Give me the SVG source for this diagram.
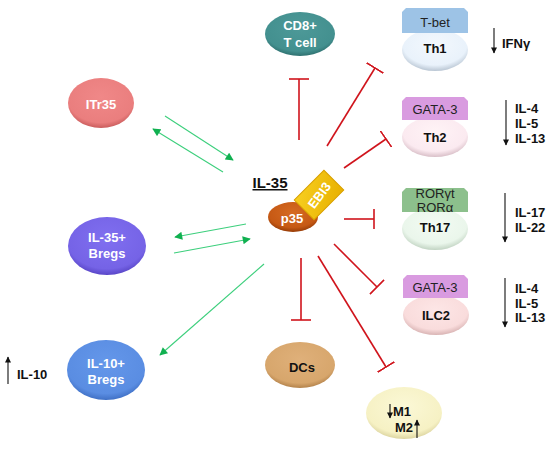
<svg xmlns="http://www.w3.org/2000/svg" width="550" height="453" viewBox="0 0 550 453">
<defs>
<style>
.lbl{font-family:"Liberation Sans",Arial,sans-serif;font-weight:bold;font-size:13px;text-anchor:middle}
.w{fill:#ffffff}
.k{fill:#111111}
.reg{font-family:"Liberation Sans",Arial,sans-serif;font-size:13px;text-anchor:middle;fill:#222222}
.cyt{font-family:"Liberation Sans",Arial,sans-serif;font-weight:bold;font-size:13px;fill:#111111}
.inh{stroke:#d0141c;stroke-width:1.6;fill:none;marker-end:url(#tbar)}
.act{stroke:#3ccf7c;stroke-width:1.1;fill:none;marker-end:url(#garrow)}
.blk{stroke:#111111;stroke-width:1.1;fill:none;marker-end:url(#barrow)}
</style>
<marker id="tbar" viewBox="-1 -10 2 20" markerUnits="userSpaceOnUse" markerWidth="2" markerHeight="20" refX="0" refY="0" orient="auto">
<path d="M0,-10 V10" stroke="#d0141c" stroke-width="1.6"/>
</marker>
<marker id="garrow" viewBox="0 0 10 10" markerUnits="userSpaceOnUse" markerWidth="9" markerHeight="8" refX="9" refY="5" orient="auto">
<path d="M0,0 L10,5 L0,10 Z" fill="#10b050"/>
</marker>
<marker id="barrow" viewBox="0 0 10 10" markerUnits="userSpaceOnUse" markerWidth="7" markerHeight="6" refX="9" refY="5" orient="auto">
<path d="M0,0 L10,5 L0,10 Z" fill="#111111"/>
</marker>
<radialGradient id="gCD8" cx="50%" cy="38%" r="64%"><stop offset="0" stop-color="#4d9998"/><stop offset="0.8" stop-color="#43908f"/><stop offset="1" stop-color="#2b6b6a"/></radialGradient>
<radialGradient id="gITr" cx="50%" cy="38%" r="64%"><stop offset="0" stop-color="#f08888"/><stop offset="0.8" stop-color="#ea7e7e"/><stop offset="1" stop-color="#c45656"/></radialGradient>
<radialGradient id="gB35" cx="50%" cy="38%" r="64%"><stop offset="0" stop-color="#806ff0"/><stop offset="0.8" stop-color="#7563e6"/><stop offset="1" stop-color="#5441c2"/></radialGradient>
<radialGradient id="gB10" cx="50%" cy="38%" r="64%"><stop offset="0" stop-color="#6497ea"/><stop offset="0.8" stop-color="#5a8de2"/><stop offset="1" stop-color="#3b6bc0"/></radialGradient>
<radialGradient id="gDC" cx="50%" cy="38%" r="64%"><stop offset="0" stop-color="#dfb07a"/><stop offset="0.8" stop-color="#d7a66c"/><stop offset="1" stop-color="#ad7c45"/></radialGradient>
<radialGradient id="gM" cx="50%" cy="38%" r="64%"><stop offset="0" stop-color="#fbf8d6"/><stop offset="0.8" stop-color="#f6f1c4"/><stop offset="1" stop-color="#d8d09a"/></radialGradient>
<radialGradient id="gTh1" cx="50%" cy="38%" r="64%"><stop offset="0" stop-color="#f3f8fd"/><stop offset="0.75" stop-color="#e9f2fb"/><stop offset="1" stop-color="#b3c0ce"/></radialGradient>
<radialGradient id="gTh2" cx="50%" cy="38%" r="64%"><stop offset="0" stop-color="#fff3f6"/><stop offset="0.75" stop-color="#fbeaf0"/><stop offset="1" stop-color="#d4b9c2"/></radialGradient>
<radialGradient id="gTh17" cx="50%" cy="38%" r="64%"><stop offset="0" stop-color="#f3fbf3"/><stop offset="0.75" stop-color="#eaf6eb"/><stop offset="1" stop-color="#bccfbd"/></radialGradient>
<radialGradient id="gILC" cx="50%" cy="38%" r="64%"><stop offset="0" stop-color="#fde6e6"/><stop offset="0.75" stop-color="#f9dcdc"/><stop offset="1" stop-color="#d4aeae"/></radialGradient>
<radialGradient id="gP35" cx="50%" cy="35%" r="66%"><stop offset="0" stop-color="#d56a22"/><stop offset="0.75" stop-color="#c65914"/><stop offset="1" stop-color="#933a06"/></radialGradient>
<linearGradient id="gEBI" x1="0" y1="0" x2="1" y2="1"><stop offset="0" stop-color="#f7cf20"/><stop offset="1" stop-color="#e8b000"/></linearGradient>
</defs>
<rect width="550" height="453" fill="#ffffff"/>

<g id="connectors">
<line class="inh" x1="299" y1="140" x2="299" y2="79"/>
<line class="inh" x1="327" y1="146" x2="375" y2="68"/>
<line class="inh" x1="344" y1="168" x2="386" y2="139"/>
<line class="inh" x1="344" y1="219" x2="374" y2="219"/>
<line class="inh" x1="334" y1="244" x2="377" y2="287"/>
<line class="inh" x1="301" y1="258" x2="301" y2="320"/>
<line class="inh" x1="318" y1="256" x2="386" y2="367"/>
<line class="act" x1="165" y1="116" x2="233" y2="160"/>
<line class="act" x1="223" y1="172" x2="153" y2="129"/>
<line class="act" x1="246" y1="224" x2="175" y2="237"/>
<line class="act" x1="174" y1="253" x2="250" y2="239"/>
<line class="act" x1="264" y1="264" x2="160" y2="355"/>
</g>

<g id="il35">
<text x="270" y="188" font-family="Liberation Sans, Arial, sans-serif" font-weight="bold" font-size="15" text-anchor="middle" fill="#111111" text-decoration="underline">IL-35</text>
<ellipse cx="293" cy="217" rx="25" ry="15" fill="url(#gP35)"/>
<text x="292" y="223" class="lbl w" font-size="13">p35</text>
<g transform="translate(319,195) rotate(-45)">
<rect x="-21" y="-14" width="42" height="28" fill="url(#gEBI)" stroke="#d9a000" stroke-width="1"/>
<text x="0" y="5" class="lbl w" font-size="13" transform="rotate(-8)">EBI3</text>
</g>
</g>

<g id="cd8">
<ellipse cx="300" cy="34" rx="35" ry="22" fill="url(#gCD8)"/>
<text x="300" y="30" class="lbl w" font-size="14">CD8+</text>
<text x="300" y="47" class="lbl w" font-size="14">T cell</text>
</g>

<g id="itr35">
<ellipse cx="101" cy="103" rx="33" ry="25" fill="url(#gITr)"/>
<text x="101" y="109" class="lbl w">ITr35</text>
</g>

<g id="il35bregs">
<ellipse cx="107" cy="246" rx="39" ry="29" fill="url(#gB35)"/>
<text x="107" y="242" class="lbl w">IL-35+</text>
<text x="107" y="258" class="lbl w">Bregs</text>
</g>

<g id="il10bregs">
<ellipse cx="106" cy="370" rx="39" ry="30" fill="url(#gB10)"/>
<text x="106" y="368" class="lbl w">IL-10+</text>
<text x="106" y="384" class="lbl w">Bregs</text>
<line class="blk" x1="8" y1="384" x2="8" y2="357"/>
<text x="17" y="379" class="cyt" font-size="15">IL-10</text>
</g>

<g id="dcs">
<ellipse cx="300" cy="365" rx="35" ry="23" fill="url(#gDC)"/>
<text x="302" y="372" class="lbl k">DCs</text>
</g>

<g id="macrophage">
<ellipse cx="404" cy="413" rx="38" ry="26" fill="url(#gM)"/>
<line class="blk" x1="390" y1="404" x2="390" y2="418"/>
<text x="393" y="416" class="cyt" font-size="12">M1</text>
<text x="395" y="432" class="cyt" font-size="12">M2</text>
<line class="blk" x1="417" y1="438" x2="417" y2="420"/>
</g>

<g id="th1">
<ellipse cx="435" cy="50" rx="33" ry="21" fill="url(#gTh1)"/>
<path d="M406,8 H464 L468,12 V33 H402 V12 Z" fill="#9dc3e6"/>
<text x="435" y="27" class="reg">T-bet</text>
<text x="435" y="53" class="lbl k">Th1</text>
<line class="blk" x1="494" y1="28" x2="494" y2="53"/>
<text x="502" y="48" class="cyt">IFNγ</text>
</g>

<g id="th2">
<ellipse cx="435" cy="137" rx="33" ry="20" fill="url(#gTh2)"/>
<path d="M406,97 H464 L468,101 V120 H402 V101 Z" fill="#d99be0"/>
<text x="435" y="114" class="reg">GATA-3</text>
<text x="435" y="142" class="lbl k">Th2</text>
<line class="blk" x1="506" y1="100" x2="506" y2="145"/>
<text x="515" y="113" class="cyt">IL-4</text>
<text x="515" y="128" class="cyt">IL-5</text>
<text x="515" y="143" class="cyt">IL-13</text>
</g>

<g id="th17">
<ellipse cx="435" cy="229" rx="33" ry="21" fill="url(#gTh17)"/>
<path d="M406,188 H464 L468,192 V212 H402 V192 Z" fill="#8cc08c"/>
<text x="435" y="198" class="reg">RORγt</text>
<text x="435" y="212" class="reg">RORα</text>
<text x="435" y="232" class="lbl k">Th17</text>
<line class="blk" x1="505" y1="193" x2="505" y2="242"/>
<text x="515" y="217" class="cyt">IL-17</text>
<text x="515" y="232" class="cyt">IL-22</text>
</g>

<g id="ilc2">
<ellipse cx="436" cy="315" rx="33" ry="20" fill="url(#gILC)"/>
<path d="M407,275 H464 L468,279 V298 H403 V279 Z" fill="#d99be0"/>
<text x="435" y="292" class="reg">GATA-3</text>
<text x="436" y="320" class="lbl k">ILC2</text>
<line class="blk" x1="505" y1="278" x2="505" y2="327"/>
<text x="515" y="293" class="cyt">IL-4</text>
<text x="515" y="308" class="cyt">IL-5</text>
<text x="515" y="322" class="cyt">IL-13</text>
</g>
</svg>
